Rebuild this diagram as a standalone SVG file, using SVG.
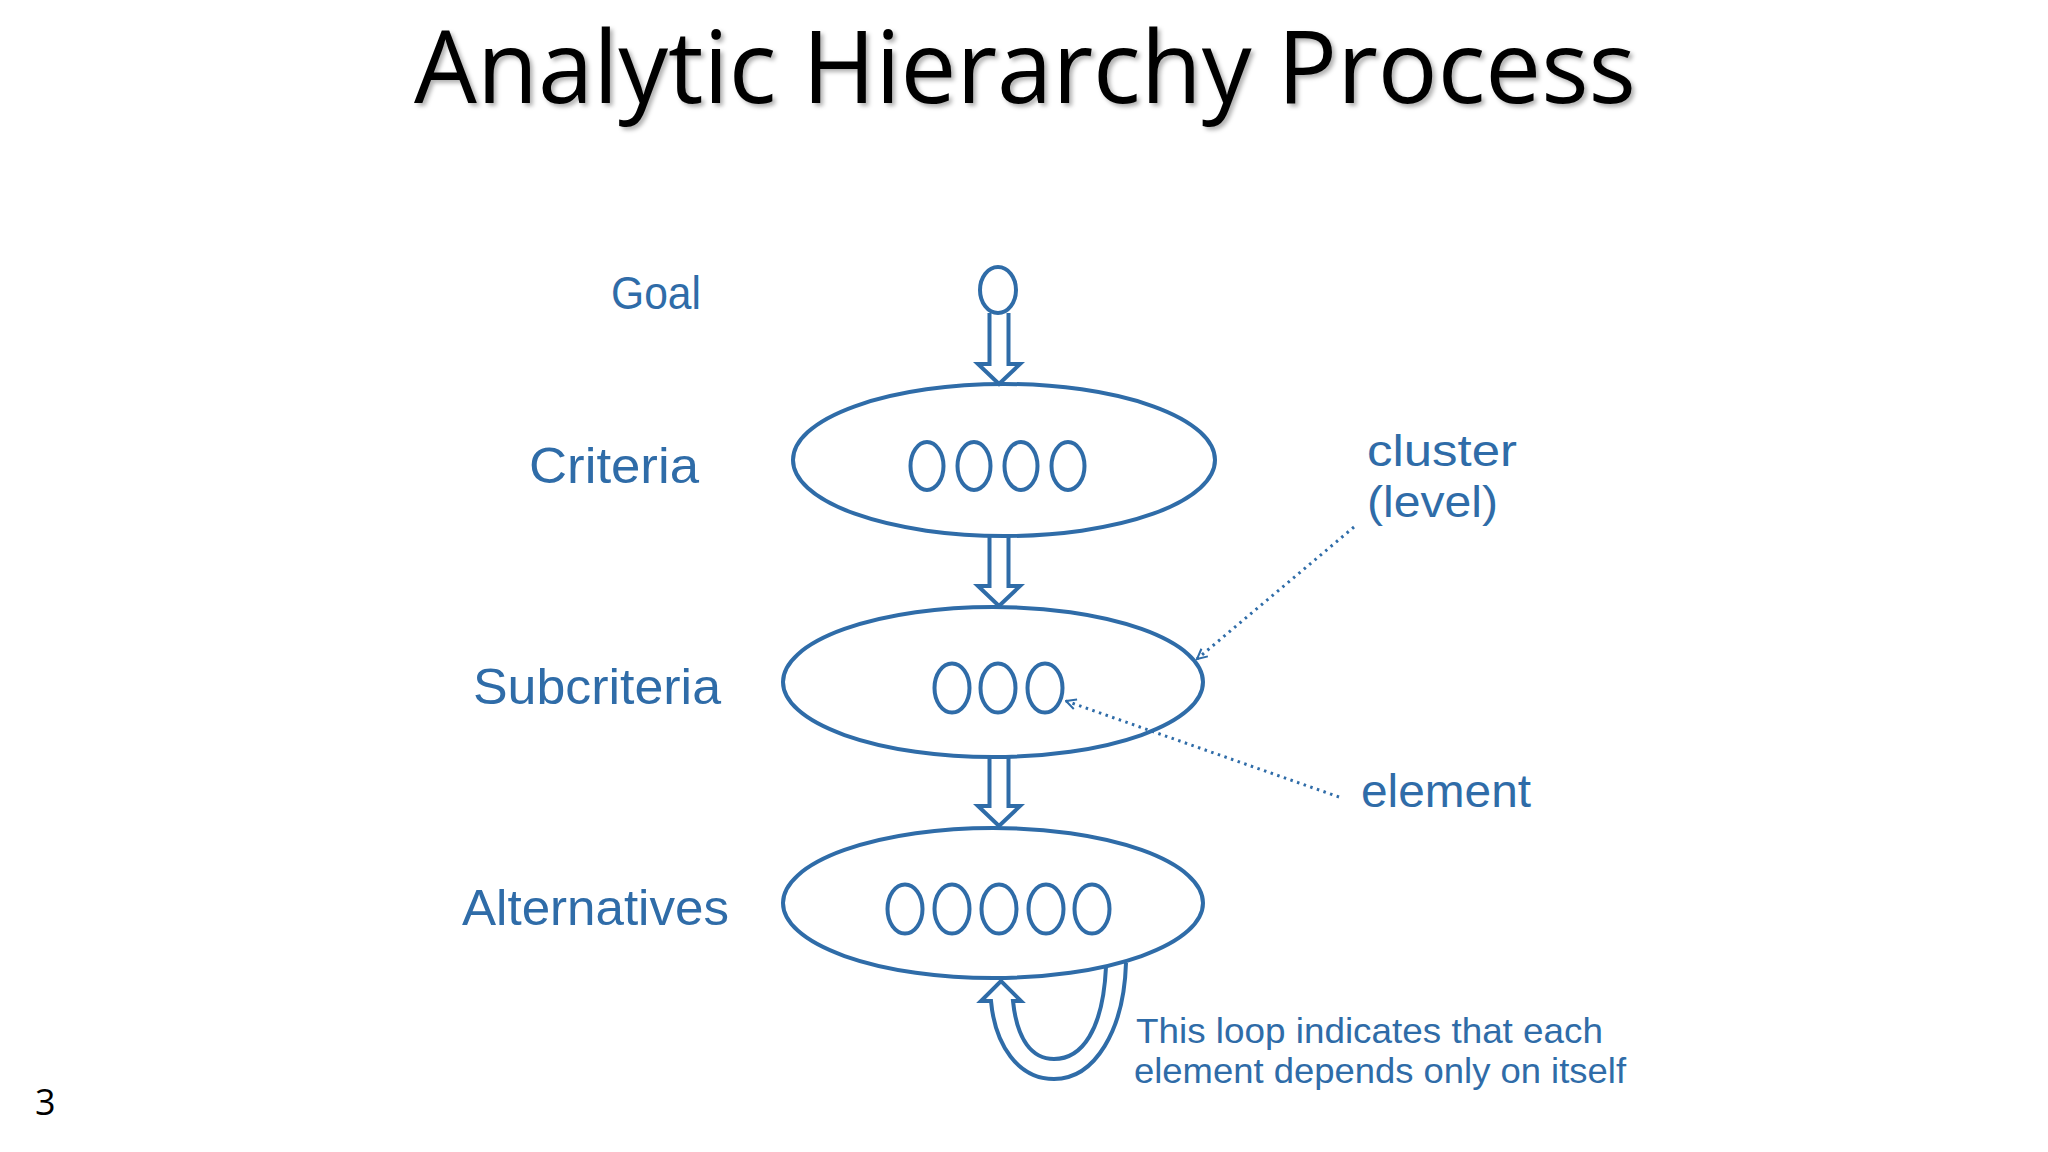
<svg xmlns="http://www.w3.org/2000/svg" width="2048" height="1152" viewBox="0 0 2048 1152">
<style>
.lbl{font-family:"Liberation Sans","Noto Sans",sans-serif;fill:#2F6CA8;}
.shape{fill:none;stroke:#2F6CA8;stroke-width:4;}
.arrow{fill:#ffffff;stroke:#2F6CA8;stroke-width:4;stroke-linejoin:miter;}
.dot{fill:none;stroke:#2F6CA8;stroke-width:3;stroke-dasharray:2.5 4.5;}
.title{font-family:"Open Sans","Noto Sans",sans-serif;fill:#000;font-size:100px;}
</style>
<defs>
<filter id="shadow" x="-5%" y="-20%" width="110%" height="140%">
<feDropShadow dx="3" dy="3" stdDeviation="2" flood-color="#000" flood-opacity="0.3"/>
</filter>
<marker id="open" viewBox="0 0 12 12" refX="11" refY="6" markerWidth="12" markerHeight="12" markerUnits="userSpaceOnUse" orient="auto">
<path d="M1,1 L11,6 L1,11" fill="none" stroke="#2F6CA8" stroke-width="2"/>
</marker>
</defs>
<rect width="2048" height="1152" fill="#ffffff"/>
<text class="title" x="414" y="103" textLength="1222" lengthAdjust="spacingAndGlyphs" filter="url(#shadow)">Analytic Hierarchy Process</text>
<text x="35" y="1115" font-family="Open Sans, Noto Sans, sans-serif" font-size="36" fill="#000">3</text>

<g id="connectors">
<path class="arrow" d="M989.5,313 L989.5,364 L978,364 L999,384 L1020,364 L1008.5,364 L1008.5,313"/>
<path class="arrow" d="M989.5,536 L989.5,586 L978,586 L999,606 L1020,586 L1008.5,586 L1008.5,536"/>
<path class="arrow" d="M989.5,757 L989.5,806 L978,806 L999,826 L1020,806 L1008.5,806 L1008.5,757"/>
<path class="arrow" d="M1126,963 C1124,1030 1095,1079 1054,1079 C1018,1079 995,1045 991,1001 L981,1001 L1001,981 L1021,1001 L1013,1001 C1017,1040 1032,1059 1054,1059 C1082,1059 1103,1030 1106,967"/>
<line class="dot" x1="1354" y1="527" x2="1197" y2="659" marker-end="url(#open)"/>
<line class="dot" x1="1339" y1="797" x2="1066" y2="701" marker-end="url(#open)"/>
</g>

<g id="goal">
<ellipse class="shape" cx="998" cy="290" rx="18" ry="23"/>
<text class="lbl" x="611" y="309" font-size="47" textLength="90" lengthAdjust="spacingAndGlyphs">Goal</text>
</g>
<g id="criteria">
<ellipse class="shape" cx="1004" cy="460" rx="211" ry="76"/>
<ellipse class="shape" cx="927" cy="466" rx="16.5" ry="24"/>
<ellipse class="shape" cx="974" cy="466" rx="16.5" ry="24"/>
<ellipse class="shape" cx="1021" cy="466" rx="16.5" ry="24"/>
<ellipse class="shape" cx="1068" cy="466" rx="16.5" ry="24"/>
<text class="lbl" x="529" y="483" font-size="50" textLength="170" lengthAdjust="spacingAndGlyphs">Criteria</text>
</g>
<g id="subcriteria">
<ellipse class="shape" cx="993" cy="682" rx="210" ry="75"/>
<ellipse class="shape" cx="952" cy="688" rx="17.5" ry="24.5"/>
<ellipse class="shape" cx="998" cy="688" rx="17.5" ry="24.5"/>
<ellipse class="shape" cx="1045" cy="688" rx="17.5" ry="24.5"/>
<text class="lbl" x="473" y="704" font-size="50" textLength="248" lengthAdjust="spacingAndGlyphs">Subcriteria</text>
</g>
<g id="alternatives">
<ellipse class="shape" cx="993" cy="903" rx="210" ry="75"/>
<ellipse class="shape" cx="905" cy="909" rx="17.5" ry="24.5"/>
<ellipse class="shape" cx="952" cy="909" rx="17.5" ry="24.5"/>
<ellipse class="shape" cx="999" cy="909" rx="17.5" ry="24.5"/>
<ellipse class="shape" cx="1046" cy="909" rx="17.5" ry="24.5"/>
<ellipse class="shape" cx="1092" cy="909" rx="17.5" ry="24.5"/>
<text class="lbl" x="462" y="925" font-size="50" textLength="267" lengthAdjust="spacingAndGlyphs">Alternatives</text>
</g>
<g id="annotations">
<text class="lbl" x="1367" y="466" font-size="45" textLength="150" lengthAdjust="spacingAndGlyphs">cluster</text>
<text class="lbl" x="1367" y="517" font-size="45" textLength="131" lengthAdjust="spacingAndGlyphs">(level)</text>
<text class="lbl" x="1361" y="807" font-size="46" textLength="170" lengthAdjust="spacingAndGlyphs">element</text>
<text class="lbl" x="1136" y="1043" font-size="35" textLength="467" lengthAdjust="spacingAndGlyphs">This loop indicates that each</text>
<text class="lbl" x="1134" y="1083" font-size="35" textLength="492" lengthAdjust="spacingAndGlyphs">element depends only on itself</text>
</g>
</svg>
